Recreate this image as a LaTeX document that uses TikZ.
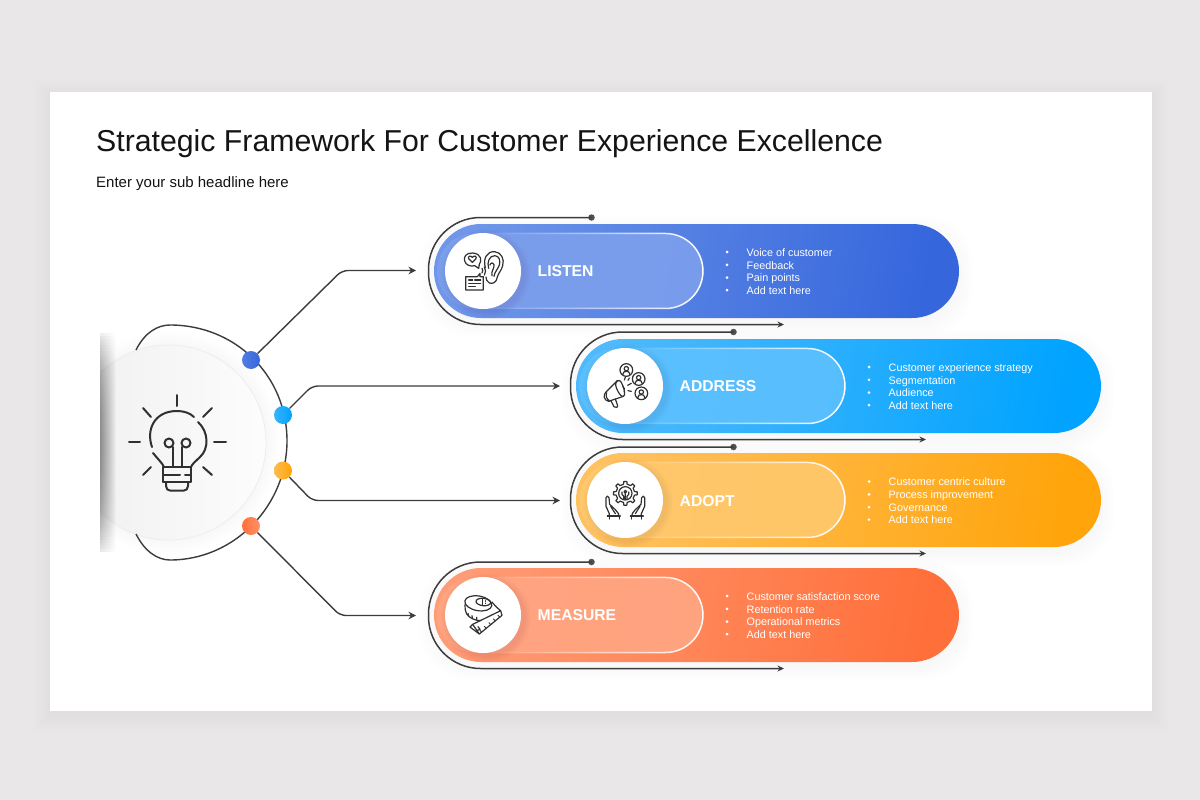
\documentclass[tikz,border=0pt]{standalone}
\usepackage{fontspec}
\setmainfont{Liberation Sans}
\usetikzlibrary{arrows.meta,fadings,calc}
\definecolor{bgc}{HTML}{E9E7E8}
\definecolor{ink}{HTML}{3C3C3E}
\definecolor{aL}{HTML}{6F96E9}\definecolor{aD}{HTML}{3566DC}\definecolor{aI}{HTML}{7C9FEC}
\definecolor{bL}{HTML}{4FB9FB}\definecolor{bD}{HTML}{00A3FF}\definecolor{bI}{HTML}{5CC0FF}
\definecolor{cL}{HTML}{FFC160}\definecolor{cD}{HTML}{FFA40A}\definecolor{cI}{HTML}{FFC86C}
\definecolor{dL}{HTML}{FF9B75}\definecolor{dD}{HTML}{FF6F3A}\definecolor{dI}{HTML}{FFA582}
\tikzset{
  track/.style={draw=ink,line width=1.5pt,-{Stealth[length=6.5pt,width=6pt]},rounded corners=52pt},
  wire/.style={draw=ink,line width=1.4pt,-{Stealth[length=7.5pt,width=7.5pt]},rounded corners=6pt},
  tdot/.style={circle,fill=ink!90,inner sep=0pt,minimum size=6.5pt},
  hub/.style={circle,inner sep=0pt,minimum size=18pt},
  icon/.style={draw=ink!80!black,line width=1.2pt,line cap=round,line join=round},
  bulbline/.style={draw=ink!80!black,line width=2pt,line cap=round,line join=round},
  ititle/.style={font=\fontsize{15.7}{16}\selectfont\bfseries,text=white,anchor=west,inner sep=0pt,text height=11.5pt,text depth=0pt},
  ibull/.style={font=\fontsize{10.8}{11}\selectfont,text=white,anchor=west,inner sep=0pt,text height=8pt,text depth=2.5pt},
}
\newcommand{\pillbox}[5]{%
  \foreach \k in {14,12,...,2}{\fill[black,opacity=.004,rounded corners=50pt] (#1-\k,#2-\k+5) rectangle (#1+525+\k,#2+94+\k+5);}
  \shade[left color=#3,right color=#4,shading angle=80,rounded corners=47pt] (#1,#2) rectangle (#1+525,#2+94);
  \fill[#5,opacity=.92,rounded corners=37.5pt] (#1+3,#2+9.5) rectangle (#1+269,#2+84.5);
  \draw[white,line width=1.5pt,rounded corners=37.5pt,path fading=west] (#1+40,#2+9.5) -- (#1+269,#2+9.5) -- (#1+269,#2+84.5) -- (#1+40,#2+84.5);
  \foreach \k in {14,12,...,2}{\fill[black,opacity=.007] (#1+49+3,#2+47+3) circle ({38+\k/2});}
  \fill[white] (#1+49,#2+47) circle (38);
}
\newcommand{\blist}[6]{%
  \foreach \yy/\tx in {0/#3,12.8/#4,25.6/#5,38.2/#6}{
    \fill[white] (#1,#2+\yy) circle (1.5);
    \node[ibull] at (#1+19.5,#2+\yy+1.5) {\tx};
  }}
\begin{document}
\begin{tikzpicture}[x=1pt,y=-1pt]
\useasboundingbox (0,0) rectangle (1200,800);
\fill[bgc] (0,0) rectangle (1200,800);
% slide with soft shadow
\foreach \k in {16,14,...,2}{\fill[black,opacity=.004] (50-\k,92-\k+4) rectangle (1152+\k,711+\k+4);}
\fill[white] (50,92) rectangle (1152,711);
\node[anchor=base west,inner sep=0pt,font=\fontsize{30.25}{30}\selectfont,text=black!92] (title) at (96,151) {Strategic Framework For Customer Experience Excellence};
\node[anchor=base west,inner sep=0pt,font=\fontsize{15}{15}\selectfont,text=black!92] (sub) at (96,187.5) {Enter your sub headline here};

% left disc
\begin{scope}
\clip (100,320) rectangle (300,570);
\foreach \k in {14,12,...,2}{\fill[black,opacity=.003] (168.5,442.5) circle ({97.5+\k});}
\fill[white] (168.5,442.5) circle (97.5);
\shade[left color=black!6,right color=black!1] (168.5,442.5) circle (97.5);
\draw[black!7,line width=.8pt] (168.5,442.5) circle (97.5);
\end{scope}
% cut edge shadow
\foreach \y in {333,336,...,549}{
  \pgfmathsetmacro{\op}{.42*sqrt(sin((\y-331)/222*180))}
  \fill[black,opacity=\op,path fading=east] (100,\y) rectangle (116,\y+3);
}

% bulb icon
\draw[bulbline] (177,395) -- (177,406);
\draw[bulbline] (143,408) -- (151,417) (212,408) -- (203,417);
\draw[bulbline] (129,442) -- (140,442) (214,442) -- (226,442);
\draw[bulbline] (143,475) -- (151,467) (212,475) -- (203,467);
\draw[bulbline] (152,447) .. controls (146,430) and (154,411) .. (177,411) .. controls (184,411) and (190,413) .. (194,417);
\draw[bulbline] (198,422) .. controls (209,432) and (209,449) .. (200,457) .. controls (196,461) and (192,464) .. (191,467);
\draw[bulbline] (153,453) .. controls (157,458) and (163,464) .. (164,467);
\draw[bulbline] (163,467) -- (191,467) (163,467) -- (163,482) (191,467) -- (191,482) (163,482) -- (191,482);
\draw[bulbline] (163,475) -- (180,475) (185,475) -- (191,475);
\draw[bulbline] (166,482) -- (166,486) .. controls (166,489) and (168,490.5) .. (170,490.5) -- (184,490.5) .. controls (186,490.5) and (188,489) .. (188,486) -- (188,482);
\draw[bulbline] (173,467) -- (173,447) (181.5,467) -- (181.5,447);
\draw[bulbline] (169,443) circle (4.5) (186,443) circle (4.5);

% outer arc
\draw[draw=ink,line width=1.4pt] (136,350) .. controls (145,332) and (158,325) .. (170,325)
  .. controls (235,325) and (287,375) .. (287,441)
  .. controls (287,505) and (235,560) .. (170,560)
  .. controls (158,560) and (145,552) .. (136,534);

% pills
\pillbox{434}{224}{aL}{aD}{aI}
\pillbox{576}{339}{bL}{bD}{bI}
\pillbox{576}{453}{cL}{cD}{cI}
\pillbox{434}{568}{dL}{dD}{dI}

% titles
\node[ititle] (t1) at (537.5,271) {LISTEN};
\node[ititle] (t2) at (679.5,386) {ADDRESS};
\node[ititle] (t3) at (679.5,500.5) {ADOPT};
\node[ititle] (t4) at (537.5,615) {MEASURE};

% bullets
\blist{727}{252}{Voice of customer}{Feedback}{Pain points}{Add text here}
\blist{869}{367}{Customer experience strategy}{Segmentation/models}{Audience}{Add text here}
\blist{869}{481.5}{Customer centric culture}{Process improvement}{Governance}{Add text here}
\blist{727}{596}{Customer satisfaction score}{Retention rate}{Operational metrics}{Add text here}

% ear icon
\begin{scope}[shift={(450,235)},scale=1/3]
\draw[icon] (88,88) .. controls (96,78) and (95,56) .. (68,54) .. controls (48,53) and (40,66) .. (44,78) .. controls (47,90) and (62,96) .. (74,92) -- (86,100) -- cycle;
\draw[icon] (67,82) -- (56,71) .. controls (52,64) and (62,60) .. (67,67) .. controls (72,60) and (82,64) .. (78,71) -- cycle;
\draw[icon] (47,125) -- (82,125) -- (90,115) -- (90,125) -- (100,125) -- (100,165) -- (47,165) -- cycle;
\draw[icon] (56,135) -- (68,135) (74,135) -- (92,135) (56,145) -- (92,145) (56,155) -- (76,155);
\draw[icon] (106,98) .. controls (98,70) and (112,48) .. (134,50) .. controls (154,52) and (164,72) .. (158,92) .. controls (154,108) and (146,112) .. (142,126) .. controls (140,142) and (128,148) .. (118,144) .. controls (110,140) and (108,132) .. (108,126);
\draw[icon] (116,100) .. controls (110,82) and (118,62) .. (134,62) .. controls (148,62) and (152,78) .. (148,90) .. controls (144,102) and (134,110) .. (132,124);
\draw[icon] (126,122) .. controls (122,110) and (134,100) .. (132,90) .. controls (130,82) and (122,82) .. (120,90);
\draw[icon] (96,100) .. controls (99,104) and (99,110) .. (96,114) (103,96) .. controls (108,103) and (108,113) .. (103,120);
\end{scope}

% megaphone icon
\begin{scope}[shift={(592,350)},scale=1/3]
\foreach \cx/\cy in {103/60,140/87,148/130}{
  \draw[icon] (\cx,\cy) circle (19);
  \draw[icon] (\cx,\cy-4) circle (6.5);
  \draw[icon] (\cx-11,\cy+14) .. controls (\cx-10,\cy+5) and (\cx-5,\cy+4) .. (\cx,\cy+4) .. controls (\cx+5,\cy+4) and (\cx+10,\cy+5) .. (\cx+11,\cy+14);
}
\draw[icon] (76,92) .. controls (80,88) and (87,92) .. (92,106) .. controls (99,124) and (100,136) .. (94,139) .. controls (88,141) and (80,130) .. (74,116) .. controls (69,104) and (71,95) .. (76,92) -- cycle;
\draw[icon] (76,92) -- (42,126) .. controls (32,134) and (36,152) .. (50,154) -- (94,139);
\draw[icon] (44,128) .. controls (40,136) and (44,148) .. (52,152);
\draw[icon] (56,151) -- (66,170) .. controls (70,176) and (80,172) .. (76,164) -- (70,147);
\draw[icon] (92,108) .. controls (97,112) and (99,120) .. (97,126);
\draw[icon] (97,90) -- (100,82) (107,106) -- (118,100) (108,122) -- (118,124) (112,84) -- (108,91);
\end{scope}

% gear and hands icon
\begin{scope}[shift={(592,465)},scale=1/3]
\begin{scope}[shift={(100,85)}]
\draw[icon] (-11.25:28) \foreach \a in {0,45,...,315}{
   -- (\a-7:36) -- (\a+7:36) -- (\a+11.25:28) -- (\a+33.75:28)} -- cycle;
\draw[icon] (0,0) circle (20);
\draw[icon] (0,-5) circle (4);
\draw[icon] (0,-1) -- (0,18) (-10,-4) -- (-10,3) -- (-5,9) -- (-5,18) (10,-4) -- (10,3) -- (5,9) -- (5,18);
\end{scope}
\begin{scope}
\draw[icon] (52,152) -- (52,146) -- (42,124) -- (42,98) .. controls (42,92) and (50,92) .. (51,98) -- (53,118) -- (70,134) .. controls (76,140) and (82,148) .. (82,156);
\draw[icon] (56,124) -- (70,146);
\draw[icon] (46,153) -- (85,153) (52,153) -- (52,162) (82,153) -- (82,162);
\end{scope}
\begin{scope}[shift={(200,0)},xscale=-1]
\draw[icon] (52,152) -- (52,146) -- (42,124) -- (42,98) .. controls (42,92) and (50,92) .. (51,98) -- (53,118) -- (70,134) .. controls (76,140) and (82,148) .. (82,156);
\draw[icon] (56,124) -- (70,146);
\draw[icon] (46,153) -- (85,153) (52,153) -- (52,162) (82,153) -- (82,162);
\end{scope}
\end{scope}

% tape icon
\begin{scope}[shift={(450,580)},scale=1/3]
\draw[icon] (85,70) ellipse [x radius=41,y radius=22,rotate=-10];
\draw[icon] (100,66) ellipse [x radius=22,y radius=11,rotate=-6];
\draw[icon,line width=.9pt] (97,57) -- (97,75) (106,62) -- (106,64) (106,69) -- (106,71);
\draw[icon] (45,74) .. controls (44,84) and (46,94) .. (50,102) .. controls (58,114) and (76,122) .. (92,122);
\draw[icon] (126,66) .. controls (134,76) and (144,86) .. (152,92) -- (68,133) -- (60,141) -- (88,162) -- (156,106) -- (152,92);
\draw[icon] (68,133) -- (88,162);
\draw[icon] (54,100) -- (56,107) (66,107) -- (67,114) (80,112) -- (80,118);
\foreach \t in {0.1,.3,.5,.7,.9}{\draw[icon,line width=.9pt] ($(88,162)!\t!(156,106)$) -- ++(-5,-6);}
\draw[icon] (84,140) -- (90,148) -- (80,152);
\end{scope}

% tracks
\coordinate (e1) at (784,324.5);\coordinate (e2) at (926,439.5);\coordinate (e3) at (926,553.5);\coordinate (e4) at (784,668.5);
\node[tdot] (d1) at (591.5,217.5) {};
\node[tdot] (d2) at (733.5,332) {};
\node[tdot] (d3) at (733.5,447) {};
\node[tdot] (d4) at (591.5,562) {};
\draw[track] (d1.center) -- (428.5,217.5) -- (428.5,324.5) -- (e1);
\draw[track] (d2.center) -- (570.5,332) -- (570.5,439.5) -- (e2);
\draw[track] (d3.center) -- (570.5,447) -- (570.5,553.5) -- (e3);
\draw[track] (d4.center) -- (428.5,562) -- (428.5,668.5) -- (e4);

% hubs
\node[hub,left color=aL!50!aD,right color=aD] (h1) at (251,360) {};
\node[hub,left color=bL!70!bD,right color=bD] (h2) at (283,415) {};
\node[hub,left color=cL!80!cD,right color=cD] (h3) at (283,470.5) {};
\node[hub,left color=dD,right color=dL!80!dD] (h4) at (251,526) {};
\coordinate (a1) at (416,270.5);\coordinate (a2) at (560,386);\coordinate (a3) at (560,500.5);\coordinate (a4) at (416,615.5);
\draw[wire] (h1) -- (342,270.5) -- (a1);
\draw[wire] (h2) -- (312,386) -- (a2);
\draw[wire] (h3) -- (312,500.5) -- (a3);
\draw[wire] (h4) -- (340,615.5) -- (a4);
\end{tikzpicture}
\end{document}
